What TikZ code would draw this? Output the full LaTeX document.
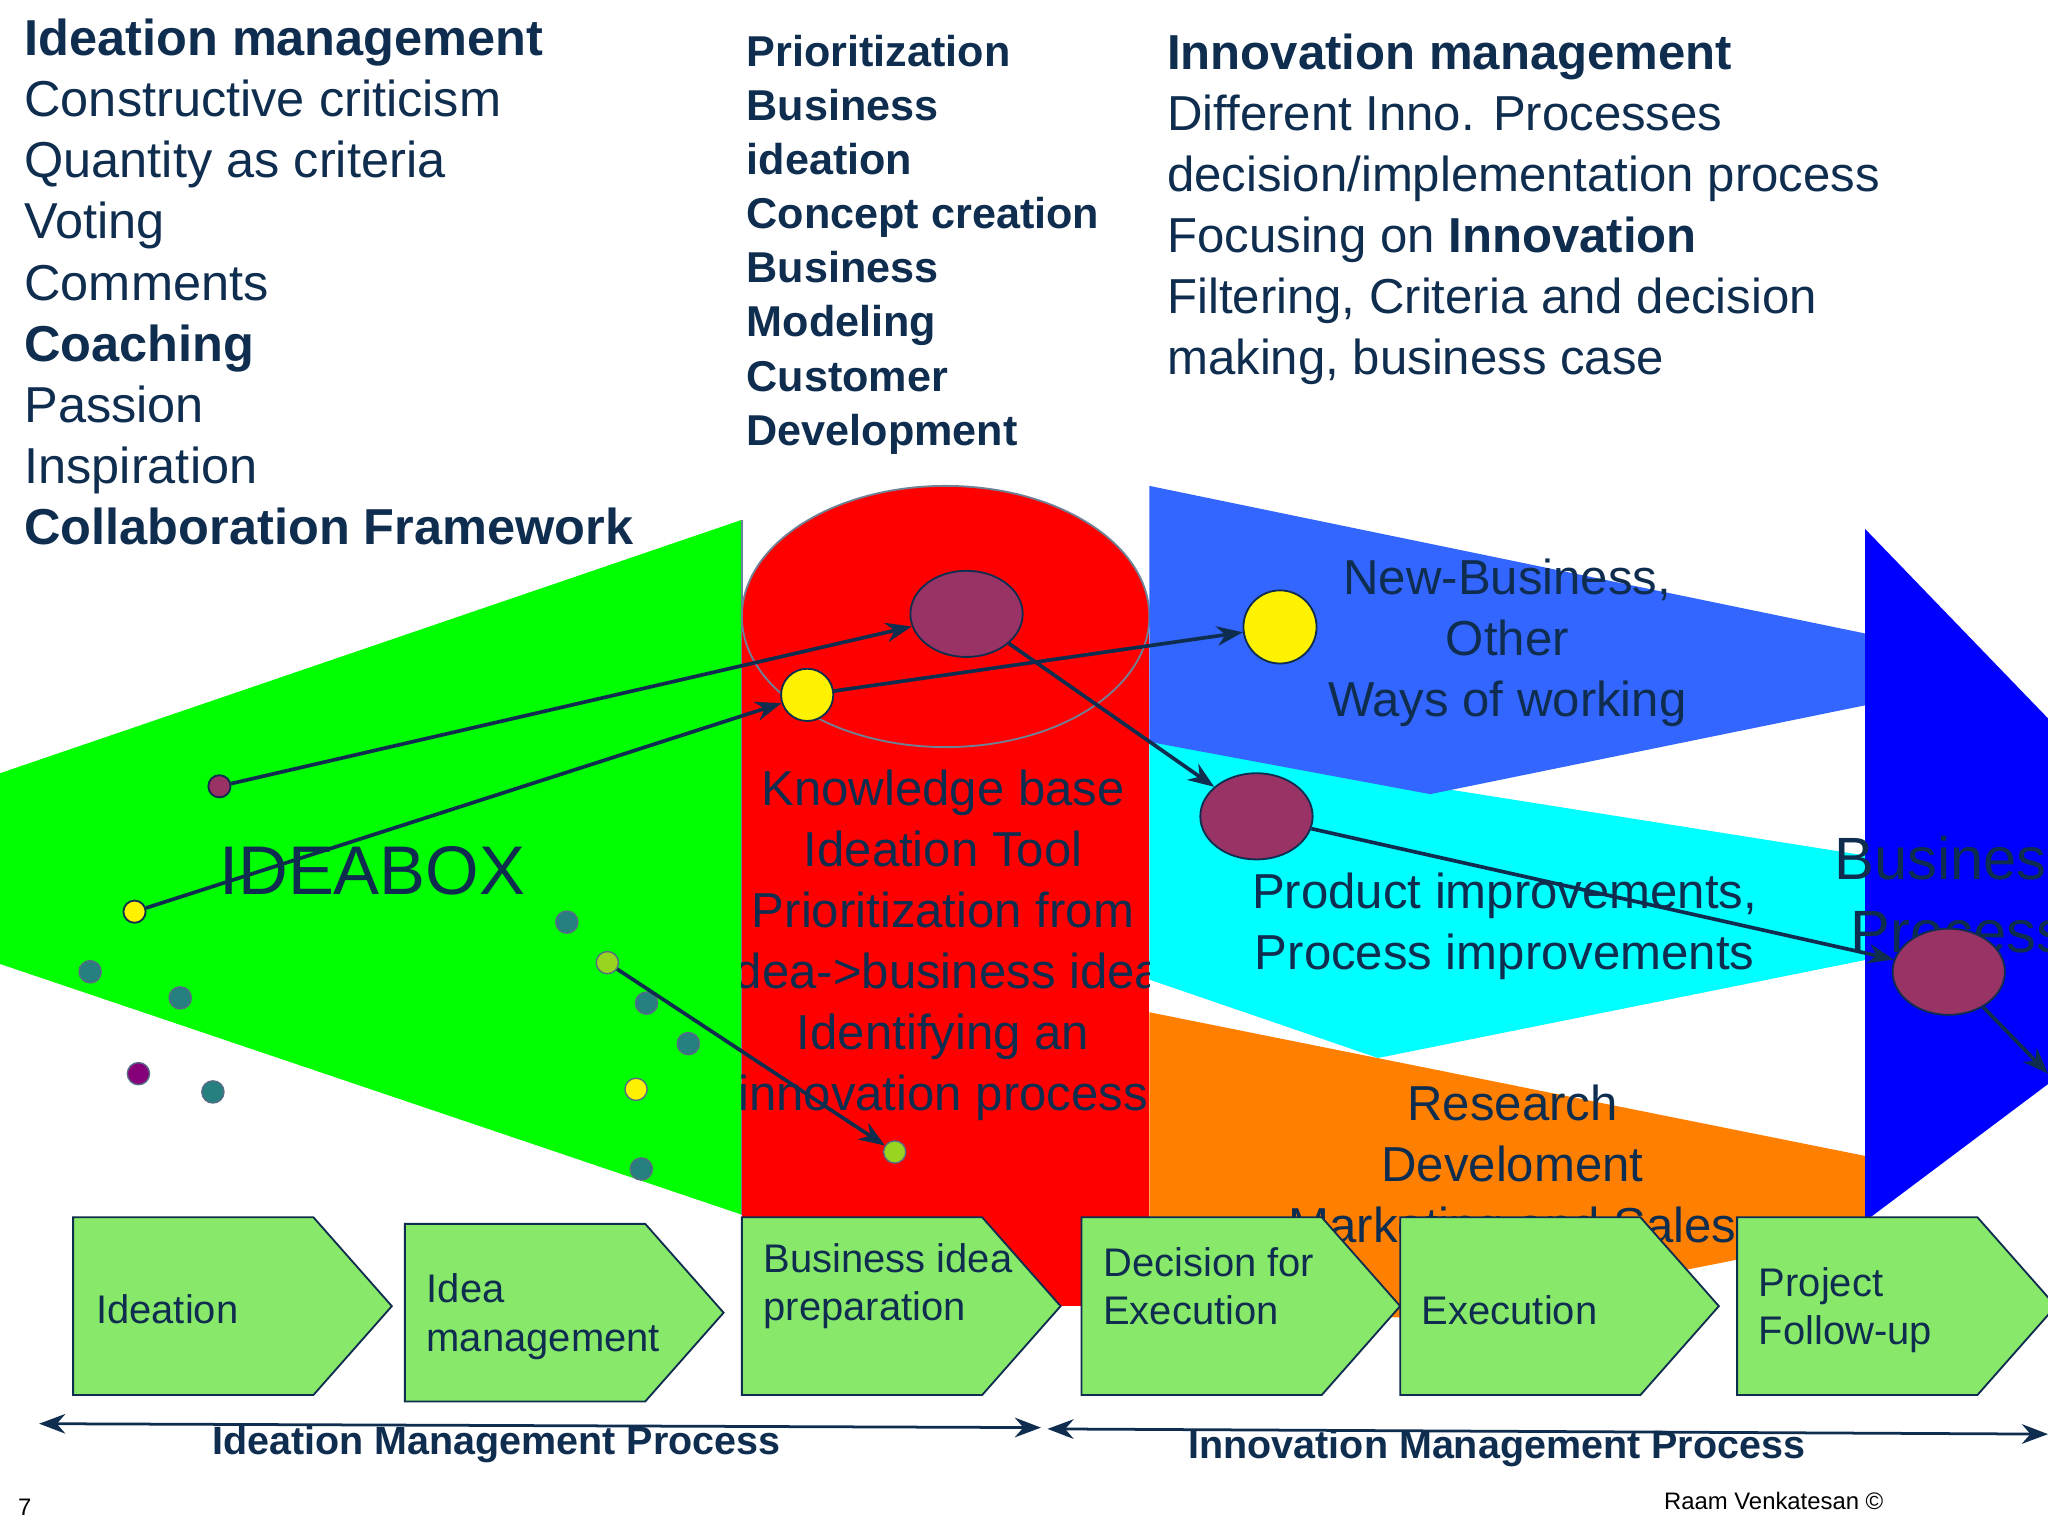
\documentclass[tikz,border=0pt]{standalone}
\usepackage{fontspec}
\setmainfont{Liberation Sans}
\usetikzlibrary{arrows.meta,shapes.geometric}
\definecolor{navy}{HTML}{0F2D4F}
\definecolor{plum}{HTML}{993366}
\definecolor{chev}{HTML}{88E86A}
\definecolor{aqua}{HTML}{00FFFF}
\begin{document}
\begin{tikzpicture}[x=0.1mm,y=-0.1mm,
  txt/.style={text=navy,align=left,anchor=north west,inner sep=0pt},
  big/.style={font=\fontsize{10.7}{13.3}\selectfont},
  chevbox/.style={fill=chev,draw=navy,line width=0.4pt},
  clab/.style={text=navy,align=left,anchor=west,font=\fontsize{8.7}{10.5}\selectfont,inner sep=0pt},
  arr/.style={-{Stealth[length=2mm]},draw=navy,line width=0.8pt},
  dot/.style={circle,draw=navy!70,line width=0.3pt,minimum size=1.7mm,inner sep=0pt}]
\useasboundingbox (0,0) rectangle (1568,1176);
\fill[white] (0,0) rectangle (1568,1176);
% shapes
\fill[green] (0,592)--(568,398)--(568,930)--(0,738)--cycle;
\draw[navy!60,line width=0.3pt] (568,398)--(568,930);
\fill[red] (568,472) rectangle (880,1000);
\fill[red] (724,472) ellipse [x radius=156,y radius=100];
\draw[navy!60,line width=0.4pt] (724,472) ellipse [x radius=156,y radius=100];
\fill[orange] (880,775)--(1428,885)--(1428,945)--(1100,1010)--(880,1000)--cycle;
\fill[aqua] (880,568)--(1428,655)--(1428,735)--(1055,810)--(880,750)--cycle;
\fill[blue!75!cyan!80] (880,372)--(1428,485)--(1428,540)--(1095,608)--(880,568)--cycle;
\fill[blue] (1428,405)--(1568,550)--(1568,830)--(1428,935)--cycle;
% texts
\node[txt,font=\fontsize{11}{13.3}\selectfont] (t1) at (18,14) {\textbf{Ideation management}\\Constructive criticism\\Quantity as criteria\\Voting\\Comments\\\textbf{Coaching}\\Passion\\Inspiration\\\textbf{Collaboration Framework}};
\node[txt,font=\bfseries\fontsize{9.4}{11.8}\selectfont] (t2) at (571,26) {Prioritization\\Business\\ideation\\Concept creation\\Business\\Modeling\\Customer\\Development};
\node[txt,big] (t3) at (893,25) {\textbf{Innovation management}\\Different Inno. Processes\\decision/implementation process\\Focusing on \textbf{Innovation}\\Filtering, Criteria and decision\\making, business case};
\node[text=navy,font=\fontsize{15}{18}\selectfont] (ib) at (285,667) {IDEABOX};
\begin{scope}
\clip (568,372) rectangle (880,1000);
\node[text=navy,big,align=center] (kb) at (722,724) {Knowledge base\\Ideation Tool\\Prioritization from\\idea->business idea\\Identifying an\\innovation process};
\end{scope}
\node[text=navy,big,align=center] (nb) at (1154,492) {New-Business,\\Other\\Ways of working};
\node[text=navy,big,align=center] (pi) at (1152,709) {Product improvements,\\Process improvements};
\node[text=navy,big,align=center] (rd) at (1158,895) {Research\\Develoment\\Marketing and Sales};
\begin{scope}
\clip (0,0) rectangle (1568,1176);
\node[text=navy,font=\fontsize{13}{16}\selectfont,align=left,anchor=west] (bp) at (1392,685) {Business\\\ Process};
\end{scope}
% dots
\node[circle,fill=plum,draw=navy,minimum size=1.7mm,inner sep=0] (p0) at (168,602) {};
\node[circle,fill=yellow,draw=navy,minimum size=1.7mm,inner sep=0] (y0) at (103,698) {};
\node[dot,fill=teal!70!gray] (d1) at (69,744) {};
\node[dot,fill=teal!70!gray] (d2) at (138,764) {};
\node[dot,fill=purple!70!blue] (d3) at (106,822) {};
\node[dot,fill=teal!70!gray] (d4) at (163,836) {};
\node[dot,fill=teal!70!gray] (d5) at (434,706) {};
\node[dot,fill=yellow!60!green] (g1) at (465,737) {};
\node[dot,fill=teal!70!gray] (d6) at (495,768) {};
\node[dot,fill=teal!70!gray] (d7) at (527,799) {};
\node[dot,fill=yellow] (d8) at (487,834) {};
\node[dot,fill=teal!70!gray] (d9) at (491,895) {};
\node[dot,fill=yellow!60!green] (g2) at (685,882) {};
\node[ellipse,fill=plum,draw=navy,minimum width=8.6mm,minimum height=6.6mm,inner sep=0] (e1) at (740,470) {};
\node[ellipse,fill=plum,draw=navy,minimum width=8.6mm,minimum height=6.6mm,inner sep=0] (e2) at (962,625) {};
\node[ellipse,fill=plum,draw=navy,minimum width=8.6mm,minimum height=6.6mm,inner sep=0] (e3) at (1492,744) {};
\node[circle,fill=yellow,draw=navy,minimum size=4mm,inner sep=0] (y1) at (618,532) {};
\node[circle,fill=yellow,draw=navy,minimum size=5.6mm,inner sep=0] (y2) at (980,480) {};
\coordinate (edge) at (1568,822);
\draw[arr] (p0)--(e1);
\draw[arr] (y0)--(y1);
\draw[arr] (y1)--(y2);
\draw[arr] (e1)--(e2);
\draw[arr] (e2)--(e3);
\draw[arr] (e3)--(edge);
\draw[arr] (g1)--(g2);
% chevrons
\foreach \n/\xa/\ya in {c1/56/932,c2/310/937,c3/568/932,c4/828/932,c5/1072/932,c6/1330/932}{
  \draw[chevbox] (\xa,\ya)--++(184,0)--++(60,68)--++(-60,68)--++(-184,0)--cycle;
}
\node[clab] (l1) at (73,1002) {Ideation};
\node[clab] (l2) at (326,1008) {Idea\\management};
\node[clab] (l3) at (584,985) {Business idea\\preparation};
\node[clab] (l4) at (844,985) {Decision for\\Execution};
\node[clab] (l5) at (1088,1003) {Execution};
\node[clab] (l6) at (1346,1003) {Project\\Follow-up};
% process arrows
\coordinate (a1) at (30,1090); \coordinate (a2) at (797,1093);
\coordinate (b1) at (802,1094); \coordinate (b2) at (1568,1098);
\draw[{Stealth[length=2mm]}-{Stealth[length=2mm]},navy,line width=0.6pt] (a1)--(a2);
\draw[{Stealth[length=2mm]}-{Stealth[length=2mm]},navy,line width=0.6pt] (b1)--(b2);
\node[text=navy,font=\bfseries\fontsize{8.6}{10}\selectfont] (pl1) at (380,1106) {Ideation Management Process};
\node[text=navy,font=\bfseries\fontsize{8.6}{10}\selectfont] (pl2) at (1146,1109) {Innovation Management Process};
\node[font=\fontsize{5.2}{6}\selectfont] (au) at (1358,1149) {Raam Venkatesan ©};
\node[font=\fontsize{5.2}{6}\selectfont] (pg) at (19,1154) {7};
\end{tikzpicture}
\end{document}
